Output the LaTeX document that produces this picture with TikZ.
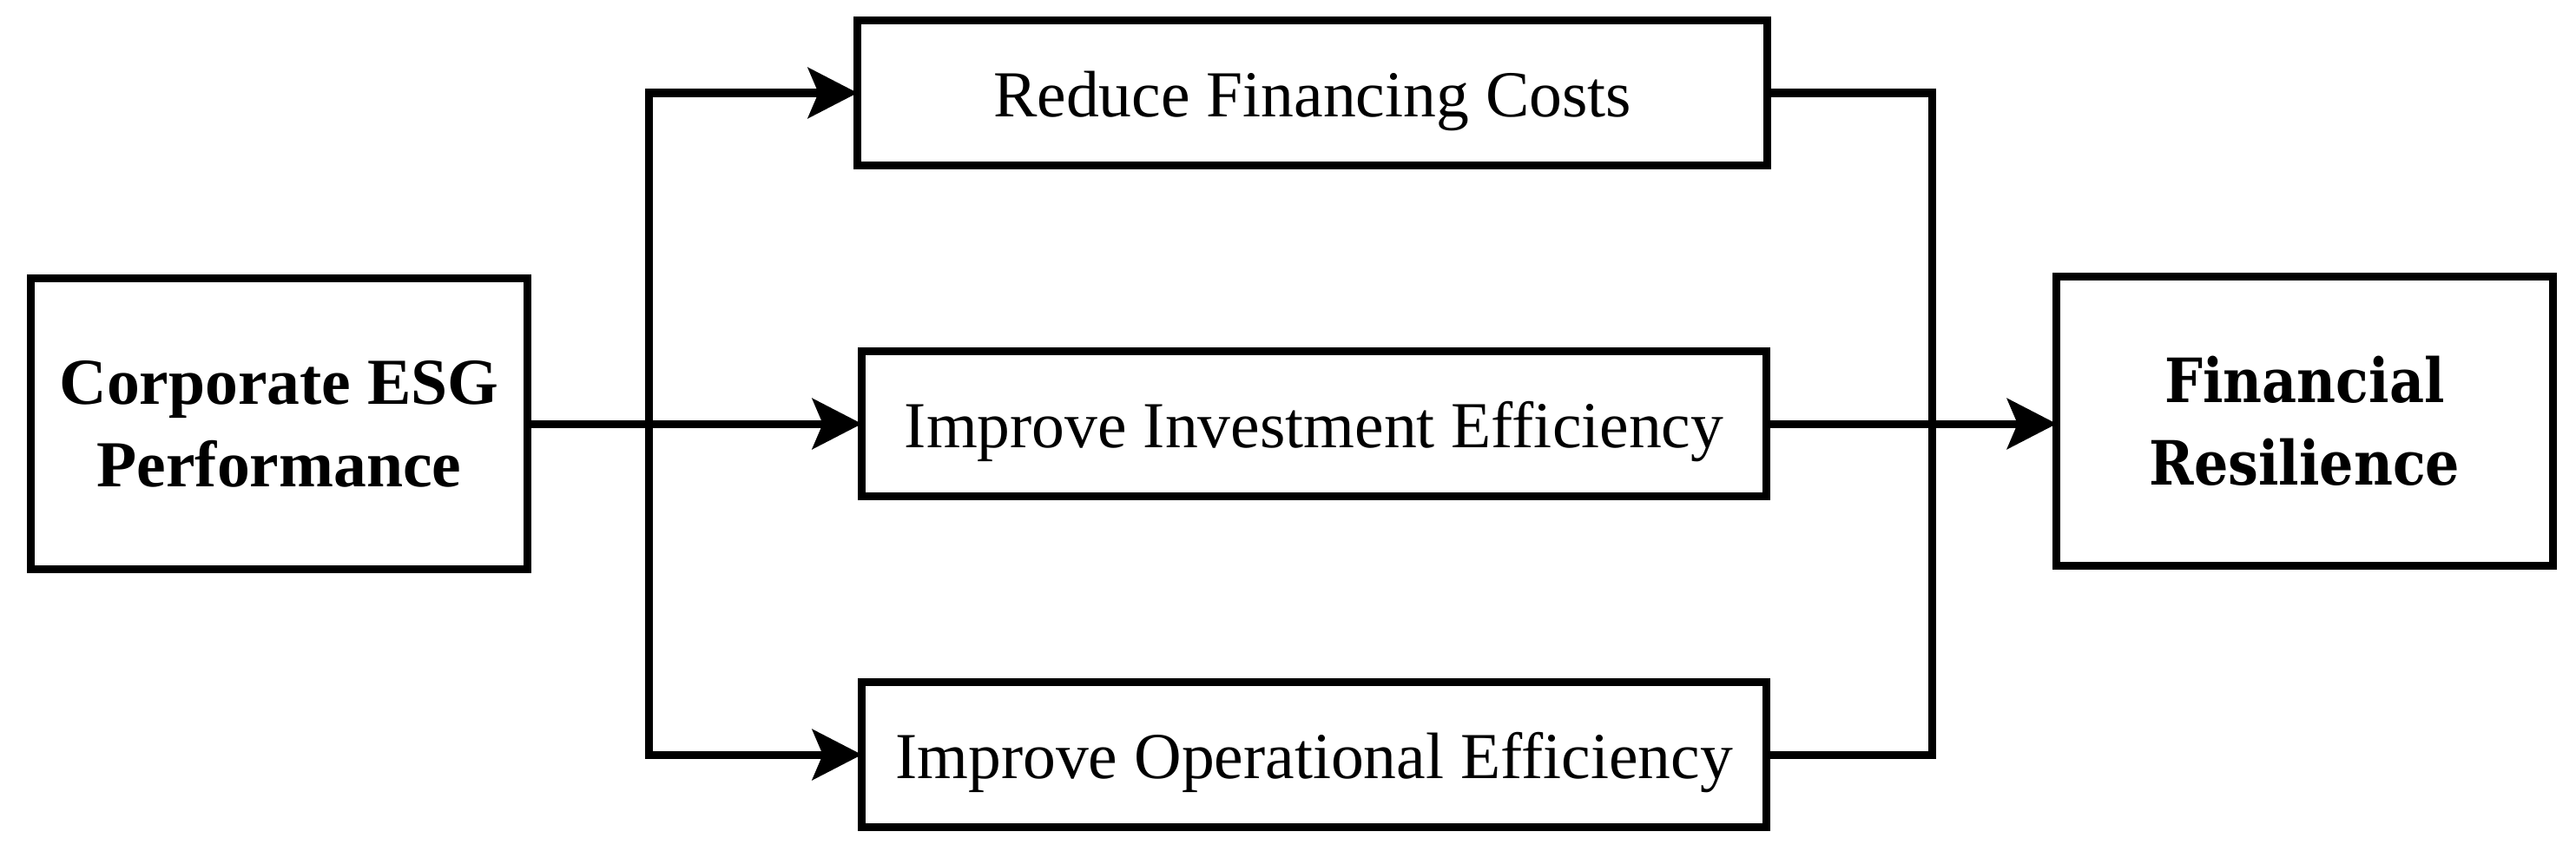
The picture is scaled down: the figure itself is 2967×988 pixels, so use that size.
\documentclass[tikz,border=0pt]{standalone}
\usepackage{fontspec}
\setmainfont{Liberation Serif}
\newfontfamily\frfont[FakeStretch=0.88]{DejaVu Serif}
\usetikzlibrary{arrows.meta}
\begin{document}
\begin{tikzpicture}[x=0.01cm,y=-0.01cm,
  box/.style={draw, line width=0.09cm, align=center, inner sep=0pt, outer sep=0pt},
  conn/.style={line width=0.09cm},
  arr/.style={conn, -{Stealth[length=0.57cm, width=0.58cm, inset=0.12cm]}},
  txt/.style={font=\fontsize{21.5}{27}\selectfont, text height=20.5pt, text depth=4.7pt}]
\useasboundingbox (0,0) rectangle (2967,988);
\node[box, font=\fontsize{21.5}{27}\selectfont\bfseries, minimum width=5.71cm, minimum height=3.34cm] (esg) at (321.5,488) {Corporate ESG\\Performance};
\node[box, txt, minimum width=10.47cm, minimum height=1.66cm] (reduce) at (1511.5,107) {Reduce Financing Costs};
\node[box, txt, minimum width=10.41cm, minimum height=1.66cm] (invest) at (1513.5,488) {Improve Investment Efficiency};
\node[box, txt, minimum width=10.41cm, minimum height=1.66cm] (oper) at (1513.5,869) {Improve Operational Efficiency};
\node[box, font=\frfont\fontsize{20}{27}\selectfont\bfseries, minimum width=5.71cm, minimum height=3.32cm] (fr) at (2654.5,485) {Financial\\Resilience};
\coordinate (lbus) at (747,488);
\coordinate (rbus) at (2225,488);
\draw[arr] (esg.east) -- (invest.west);
\draw[arr] (lbus) |- (reduce.west);
\draw[arr] (lbus) |- (oper.west);
\draw[conn] (reduce.east) -| (rbus) |- (oper.east);
\draw[arr] (invest.east) -- (fr.west |- invest.east);
\end{tikzpicture}
\end{document}
